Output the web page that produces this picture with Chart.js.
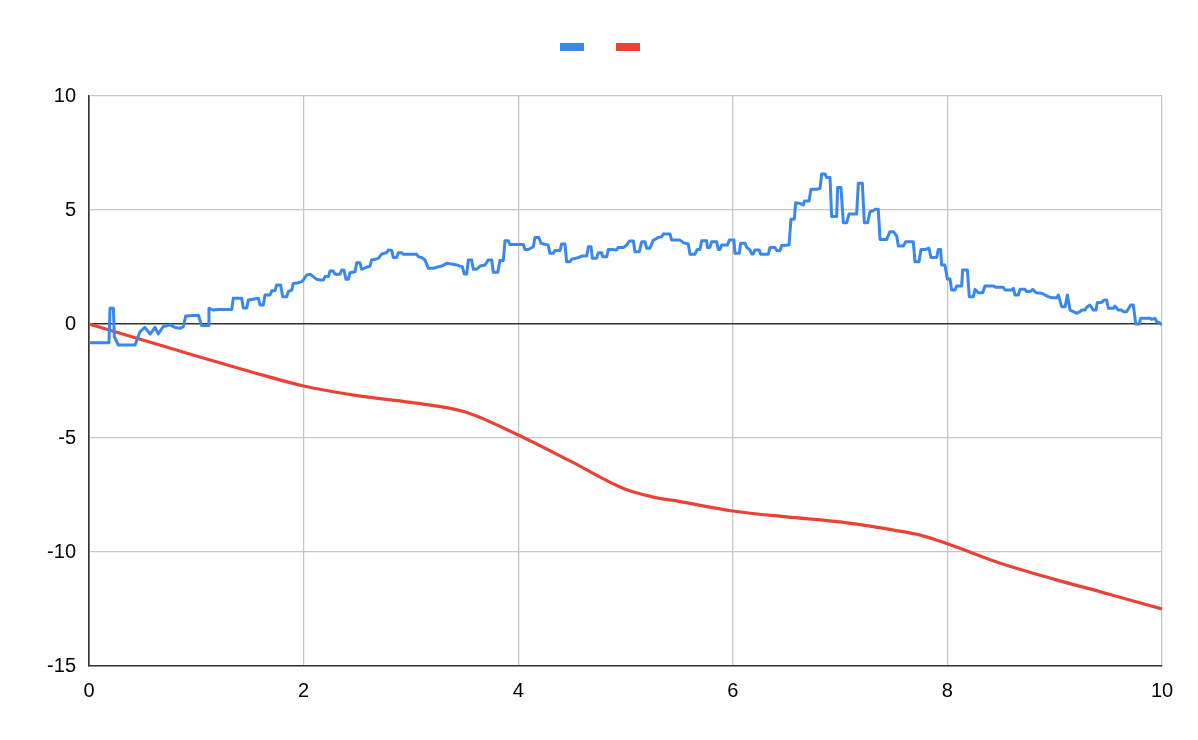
<!DOCTYPE html>
<html lang="en">
<head>
<meta charset="UTF-8">
<script src="https://cdn.jsdelivr.net/npm/chart.js"></script>
<title>Two series</title>
<style>
  * { margin: 0; padding: 0; box-sizing: border-box; }
  body { background: #fff; }
  .chartBox { width: 1198px; height: 740px; }
</style>
</head>
<body>
<div class="chartBox">
  <canvas id="myChart" width="1198" height="740"></canvas>
</div>
<script>
// data block
const blueX = [0, 0.186, 0.196, 0.227, 0.236, 0.273, 0.429, 0.475, 0.52, 0.57, 0.615, 0.646, 0.69, 0.755, 0.80, 0.848, 0.879, 0.901, 1.019, 1.050,
  1.112, 1.118, 1.159, 1.205, 1.330, 1.345, 1.423, 1.438, 1.470, 1.485, 1.578, 1.594, 1.625, 1.640, 1.687, 1.703, 1.734, 1.749, 1.786, 1.805,
  1.842, 1.858, 1.889, 1.904, 1.951, 1.982, 1.997, 2.029, 2.060, 2.091, 2.122, 2.153, 2.184, 2.200, 2.231, 2.246, 2.277, 2.293, 2.339, 2.355,
  2.376, 2.395, 2.417, 2.432, 2.479, 2.495, 2.525, 2.541, 2.588, 2.619, 2.634, 2.665, 2.696, 2.728, 2.774, 2.790, 2.821, 2.836, 2.867, 2.883,
  2.914, 2.929, 3.054, 3.069, 3.100, 3.131, 3.163, 3.209, 3.240, 3.287, 3.333, 3.380, 3.427, 3.458, 3.479, 3.498, 3.520, 3.535, 3.566, 3.582,
  3.613, 3.644, 3.691, 3.722, 3.753, 3.768, 3.809, 3.830, 3.861, 3.877, 3.908, 3.923, 4.048, 4.063, 4.094, 4.141, 4.156, 4.193, 4.212, 4.280,
  4.296, 4.327, 4.343, 4.389, 4.405, 4.436, 4.451, 4.482, 4.498, 4.560, 4.591, 4.638, 4.654, 4.679, 4.691, 4.731, 4.747, 4.778, 4.787, 4.825,
  4.840, 4.871, 4.918, 4.933, 4.980, 5.011, 5.036, 5.073, 5.088, 5.129, 5.151, 5.182, 5.197, 5.228, 5.259, 5.275, 5.306, 5.337, 5.352, 5.414,
  5.430, 5.508, 5.539, 5.585, 5.601, 5.648, 5.669, 5.694, 5.710, 5.756, 5.763, 5.787, 5.803, 5.849, 5.865, 5.880, 5.896, 5.949, 5.968, 6.011,
  6.020, 6.061, 6.073, 6.114, 6.129, 6.160, 6.176, 6.191, 6.207, 6.247, 6.260, 6.331, 6.347, 6.393, 6.409, 6.440, 6.456, 6.524, 6.542, 6.573,
  6.586, 6.626, 6.657, 6.667, 6.710, 6.729, 6.781, 6.813, 6.828, 6.859, 6.874, 6.906, 6.921, 6.968, 6.977, 7.008, 7.030, 7.061, 7.083, 7.154,
  7.170, 7.207, 7.226, 7.257, 7.279, 7.310, 7.325, 7.356, 7.372, 7.434, 7.465, 7.496, 7.527, 7.543, 7.589, 7.611, 7.682, 7.698, 7.735, 7.754,
  7.791, 7.828, 7.847, 7.900, 7.915, 7.937, 7.946, 7.977, 7.999, 8.024, 8.040, 8.071, 8.086, 8.133, 8.142, 8.186, 8.204, 8.242, 8.257, 8.288,
  8.329, 8.350, 8.428, 8.453, 8.521, 8.537, 8.599, 8.615, 8.630, 8.661, 8.677, 8.723, 8.739, 8.770, 8.795, 8.826, 8.879, 8.910, 8.941, 8.972,
  9.019, 9.034, 9.065, 9.097, 9.118, 9.143, 9.174, 9.205, 9.236, 9.251, 9.283, 9.298, 9.329, 9.360, 9.385, 9.397, 9.438, 9.459, 9.484, 9.500,
  9.546, 9.562, 9.593, 9.624, 9.640, 9.671, 9.708, 9.733, 9.755, 9.789, 9.801, 9.888, 9.904, 9.935, 9.950, 9.975, 10];
const blueY = [-0.82, -0.82, 0.69, 0.69, -0.56, -0.92, -0.92, -0.34, -0.15, -0.44, -0.15, -0.44, -0.12, -0.04, -0.15, -0.19, -0.12, 0.35, 0.38, -0.07,
  -0.07, 0.69, 0.61, 0.64, 0.64, 1.13, 1.13, 0.70, 0.70, 1.05, 1.13, 0.83, 0.83, 1.27, 1.27, 1.46, 1.46, 1.71, 1.71, 1.20,
  1.20, 1.42, 1.49, 1.78, 1.81, 1.86, 1.93, 2.15, 2.18, 2.08, 1.96, 1.93, 1.93, 2.08, 2.08, 2.32, 2.32, 2.18, 2.18, 2.37,
  2.37, 1.96, 1.96, 2.25, 2.29, 2.69, 2.69, 2.40, 2.49, 2.54, 2.81, 2.84, 2.88, 3.07, 3.13, 3.25, 3.22, 2.92, 2.92, 3.13,
  3.13, 3.06, 3.06, 2.95, 2.92, 2.81, 2.44, 2.44, 2.49, 2.54, 2.66, 2.63, 2.59, 2.54, 2.51, 2.19, 2.19, 2.81, 2.81, 2.40,
  2.40, 2.54, 2.59, 2.81, 2.81, 2.27, 2.27, 2.78, 2.78, 3.65, 3.65, 3.49, 3.49, 3.27, 3.27, 3.39, 3.79, 3.79, 3.54, 3.46,
  3.10, 3.10, 3.22, 3.22, 3.51, 3.51, 2.73, 2.73, 2.84, 2.91, 2.98, 2.98, 3.39, 3.39, 2.88, 2.88, 3.13, 3.13, 2.95, 2.95,
  3.27, 3.27, 3.25, 3.36, 3.36, 3.46, 3.64, 3.64, 3.17, 3.17, 3.61, 3.61, 3.32, 3.32, 3.68, 3.71, 3.80, 3.83, 3.95, 3.95,
  3.68, 3.68, 3.57, 3.51, 3.06, 3.06, 3.27, 3.27, 3.65, 3.65, 3.36, 3.36, 3.61, 3.61, 3.27, 3.27, 3.46, 3.46, 3.68, 3.68,
  3.10, 3.10, 3.54, 3.54, 3.36, 3.25, 3.07, 3.07, 3.25, 3.25, 3.06, 3.06, 3.36, 3.36, 3.22, 3.22, 3.44, 3.46, 4.59, 4.59,
  5.32, 5.29, 5.22, 5.39, 5.39, 5.91, 5.91, 5.95, 6.58, 6.58, 6.43, 6.43, 4.71, 4.71, 5.99, 5.99, 4.44, 4.44, 4.82, 4.82,
  6.17, 6.17, 4.44, 4.44, 4.93, 4.97, 5.03, 5.03, 3.71, 3.71, 4.05, 4.05, 3.86, 3.42, 3.42, 3.61, 3.61, 2.73, 2.73, 3.27,
  3.27, 3.32, 2.92, 2.92, 3.27, 3.27, 2.59, 2.59, 1.97, 1.97, 1.49, 1.49, 1.67, 1.67, 2.37, 2.37, 1.20, 1.20, 1.52, 1.37,
  1.37, 1.67, 1.67, 1.61, 1.61, 1.49, 1.49, 1.56, 1.27, 1.27, 1.52, 1.52, 1.42, 1.42, 1.52, 1.37, 1.35, 1.27, 1.20, 1.15,
  1.15, 1.27, 0.76, 0.76, 1.27, 0.61, 0.54, 0.47, 0.54, 0.61, 0.61, 0.73, 0.83, 0.61, 0.61, 0.94, 0.94, 1.05, 1.05, 0.69,
  0.69, 0.79, 0.61, 0.61, 0.54, 0.54, 0.83, 0.83, 0.00, 0.00, 0.25, 0.25, 0.20, 0.25, 0.10, 0.06, -0.04];

const redX = [0, 0.5, 1, 1.5, 2, 2.5, 3, 3.5, 4, 4.5, 5, 5.25, 5.5, 6, 6.5, 7, 7.5, 7.75, 8, 8.5, 9, 9.5, 10];
const redY = [0, -0.7, -1.4, -2.08, -2.72, -3.14, -3.44, -3.85, -4.87, -6.05, -7.25, -7.58, -7.78, -8.2, -8.46, -8.68, -9.04, -9.26, -9.64, -10.5, -11.2, -11.84, -12.5];

const xTicks = [0, 2, 4, 6, 8, 10];
const yTicks = [-15, -10, -5, 0, 5, 10];

const blueColor = '#3a87ed';
const redColor = '#ea4335';

// setup block
const toPoints = (xs, ys) => xs.map((x, i) => ({ x: x, y: ys[i] }));

Chart.defaults.font.family = '"Liberation Sans", Arial, sans-serif';
Chart.defaults.color = '#222';

const data = {
  datasets: [{
    label: 'blue',
    data: toPoints(blueX, blueY),
    borderColor: blueColor,
    backgroundColor: blueColor,
    borderWidth: 3,
    pointRadius: 0,
    tension: 0,
    borderJoinStyle: 'round'
  }, {
    label: 'red',
    data: toPoints(redX, redY),
    borderColor: redColor,
    backgroundColor: redColor,
    borderWidth: 3.2,
    pointRadius: 0,
    cubicInterpolationMode: 'monotone'
  }]
};

// config block
const config = {
  type: 'line',
  data,
  options: {
    responsive: false,
    animation: false,
    layout: { padding: { left: 44, right: 36, top: 15, bottom: 0 } },
    plugins: {
      tooltip: { enabled: false },
      legend: {
        position: 'top',
        labels: {
          boxWidth: 24,
          boxHeight: 8,
          padding: 26,
          font: { size: 12 },
          generateLabels: chart => Chart.defaults.plugins.legend.labels.generateLabels(chart)
            .map(item => ({ ...item, text: '', lineWidth: 0 }))
        }
      },
      // empty subtitle used as spacer between legend and plot
      subtitle: {
        display: true,
        text: '',
        weight: 500,
        padding: 0,
        font: { size: 33, lineHeight: 1 }
      }
    },
    scales: {
      x: {
        type: 'linear',
        min: 0,
        max: 10,
        afterBuildTicks: axis => { axis.ticks = xTicks.map(v => ({ value: v })); },
        afterFit: axis => { axis.height = 74; },
        ticks: { font: { size: 20 }, color: '#000', padding: 13 },
        grid: {
          drawTicks: false,
          color: ctx => ctx.tick && ctx.tick.value === 0 ? '#333' : '#c6c6c6',
          lineWidth: 1.3
        },
        border: { color: '#333', width: 1.5 }
      },
      y: {
        type: 'linear',
        min: -15,
        max: 10,
        afterBuildTicks: axis => { axis.ticks = yTicks.map(v => ({ value: v })); },
        afterFit: axis => { axis.width = 45; },
        ticks: { font: { size: 20 }, color: '#000', padding: 13 },
        grid: {
          drawTicks: false,
          color: ctx => ctx.tick && ctx.tick.value === 0 ? '#333' : '#c6c6c6',
          lineWidth: ctx => ctx.tick && ctx.tick.value === 0 ? 1.5 : 1.3
        },
        border: { color: '#333', width: 1.5 }
      }
    }
  }
};

// render block
const myChart = new Chart(document.getElementById('myChart'), config);
</script>
</body>
</html>
